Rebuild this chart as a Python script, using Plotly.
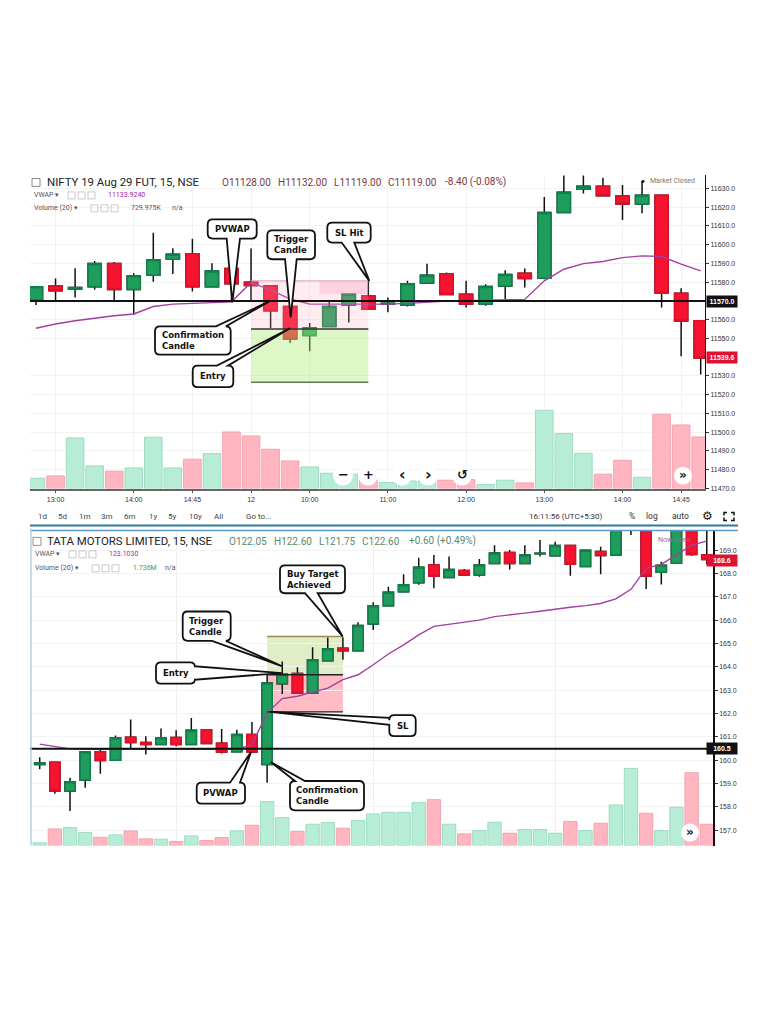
import plotly.graph_objects as go

# ---------- NIFTY 15-minute session ----------
nifty_idx = list(range(35))
nifty_open = [11570.6, 11578.0, 11576.3, 11577.5, 11589.9, 11576.1, 11583.7, 11592.2, 11595.1, 11577.5,
              11587.3, 11580.0, 11578.0, 11567.0, 11551.5, 11556.4, 11567.8, 11572.6, 11568.3, 11567.8,
              11579.5, 11584.4, 11573.6, 11568.3, 11577.9, 11584.8, 11582.1, 11617.1, 11629.5, 11631.1,
              11625.9, 11621.7, 11626.3, 11574.1, 11559.4]
nifty_high = [11577.5, 11582.0, 11587.4, 11591.3, 11590.8, 11584.8, 11606.4, 11598.1, 11603.2, 11590.1,
              11587.3, 11597.9, 11578.0, 11567.0, 11558.2, 11570.1, 11573.6, 11580.7, 11571.8, 11580.7,
              11589.8, 11585.1, 11580.7, 11578.9, 11586.4, 11587.3, 11625.4, 11640.0, 11640.0, 11635.7,
              11631.8, 11633.9, 11626.3, 11576.8, 11559.4]
nifty_low = [11567.8, 11570.1, 11571.8, 11575.9, 11570.4, 11562.6, 11580.2, 11584.3, 11575.0, 11577.5,
             11569.5, 11570.4, 11555.4, 11547.6, 11543.1, 11555.9, 11558.5, 11565.6, 11563.9, 11567.0,
             11579.5, 11573.4, 11566.5, 11567.4, 11571.0, 11577.2, 11581.6, 11617.1, 11627.3, 11626.1,
             11613.2, 11616.7, 11566.5, 11540.5, 11530.7]
nifty_close = [11577.5, 11575.4, 11577.2, 11589.9, 11576.1, 11583.4, 11591.9, 11594.9, 11577.5, 11585.9,
               11579.1, 11578.2, 11564.8, 11549.7, 11555.5, 11567.0, 11573.6, 11565.6, 11568.7, 11579.1,
               11583.7, 11573.4, 11568.3, 11577.7, 11584.1, 11582.0, 11617.1, 11628.0, 11631.2, 11626.1,
               11621.7, 11626.3, 11574.1, 11559.3, 11539.6]
nifty_vwap = [11555.4, 11557.7, 11559.4, 11560.9, 11562.1, 11563.0, 11567.0, 11568.3, 11568.7, 11569.2,
              11569.5, 11579.8, 11575.9, 11571.0, 11568.3, 11568.3, 11568.3, 11568.3, 11568.3, 11568.7,
              11569.5, 11569.9, 11570.1, 11570.4, 11570.6, 11570.8, 11580.7, 11586.9, 11589.9, 11591.0,
              11593.1, 11594.0, 11593.7, 11589.6, 11586.0]
nifty_volume_k = [207, 253, 1013, 453, 347, 413, 1027, 413, 587, 700, 1133, 1053, 787, 553, 433, 307, 287, 187,
                  120, 153, 153, 167, 180, 80, 167, 113, 1567, 1100, 707, 287, 567, 227, 1487, 1273, 1033]
nifty_time_pos = [1, 5, 8, 11, 14, 18, 22, 26, 30, 33]
nifty_time_labels = ["13:00", "14:00", "14:45", "12", "10:00", "11:00", "12:00", "13:00", "14:00", "14:45"]
nifty_price_ticks = [11630, 11620, 11610, 11600, 11590, 11580, 11560, 11550, 11530,
                     11520, 11510, 11500, 11490, 11480, 11470]
nifty_level = 11570.0
nifty_last = 11539.6

# ---------- TATA MOTORS 15-minute session ----------
tata_idx = list(range(45))
tata_open = [159.82, 159.92, 158.68, 159.15, 160.36, 160.00, 160.99, 160.76, 160.67, 160.97, 160.67, 161.31,
             160.73, 160.36, 161.10, 159.82, 163.28, 163.72, 162.88, 164.26, 164.80, 164.69, 165.83, 166.62,
             167.22, 167.60, 168.36, 167.82, 168.12, 167.93, 168.42, 168.90, 168.42, 168.84, 168.76, 169.19,
             168.30, 168.94, 168.79, 170.20, 170.50, 168.05, 168.43, 170.40, 168.79]
tata_high = [160.13, 159.92, 159.25, 160.36, 160.46, 161.06, 161.74, 161.03, 161.36, 161.29, 161.81, 161.31,
             161.34, 161.31, 161.64, 163.69, 164.23, 163.98, 164.84, 165.26, 165.27, 165.91, 166.77, 167.43,
             167.96, 168.67, 168.79, 168.72, 168.19, 168.62, 169.21, 169.00, 169.21, 169.43, 169.36, 169.19,
             168.99, 169.14, 170.90, 170.80, 170.90, 168.50, 170.50, 170.60, 170.40]
tata_low = [159.61, 158.57, 157.83, 158.82, 159.42, 160.00, 160.50, 160.25, 160.67, 160.60, 160.67, 160.72,
            160.29, 160.36, 160.35, 159.04, 162.84, 162.87, 162.85, 164.26, 164.30, 164.69, 165.58, 166.62,
            167.22, 167.51, 167.36, 167.82, 167.93, 167.86, 168.42, 168.17, 168.42, 168.72, 168.76, 167.90,
            168.30, 167.96, 168.79, 169.64, 167.33, 167.53, 168.43, 168.76, 168.39]
tata_close = [159.88, 158.68, 159.08, 160.36, 159.99, 160.96, 160.76, 160.67, 160.96, 160.67, 161.29, 160.72,
              160.35, 161.10, 160.35, 163.31, 163.68, 162.87, 164.30, 164.77, 164.69, 165.77, 166.62, 167.19,
              167.51, 168.26, 167.88, 168.17, 167.93, 168.36, 168.87, 168.42, 168.79, 168.86, 169.19, 168.39,
              168.99, 168.77, 170.60, 170.50, 167.89, 168.35, 170.30, 168.81, 168.60]
tata_vwap = [160.69, 160.60, 160.49, 160.47, 160.47, 160.47, 160.47, 160.47, 160.47, 160.47, 160.47, 160.47,
             160.47, 160.47, 160.67, 162.03, 162.64, 162.74, 162.92, 163.09, 163.45, 163.66, 164.09, 164.55,
             164.94, 165.37, 165.73, 165.83, 165.91, 166.00, 166.15, 166.21, 166.30, 166.38, 166.48, 166.55,
             166.62, 166.71, 166.91, 167.32, 168.22, 168.39, 168.79, 169.21, 169.38]
tata_volume_m = [0.16, 1.00, 1.08, 0.78, 0.50, 0.64, 0.88, 0.40, 0.38, 0.24, 0.58, 0.30, 0.48, 0.88, 1.22, 2.64,
                 1.68, 0.84, 1.28, 1.38, 1.04, 1.50, 1.90, 2.00, 2.00, 2.58, 2.76, 1.28, 0.70, 0.90, 1.40, 0.74,
                 0.96, 0.96, 0.74, 1.44, 0.90, 1.34, 2.44, 4.64, 1.94, 0.90, 2.30, 4.38, 1.28]
tata_grid_pos = [9, 22, 34]
tata_price_ticks = [169, 168, 167, 166, 165, 164, 163, 162, 161, 160, 159, 158, 157]
tata_level = 160.49
tata_last = 168.60

GREEN, GREEN_EDGE = "#1f9d5c", "#10804a"
RED, RED_EDGE = "#f5132f", "#dc1029"
VOL_GREEN, VOL_RED = "#b7ecd6", "#ffb6c1"
VWAP_COLOR = "#a23f9f"
W, H = 768, 1024
TEXT_FONT = "Roboto, Liberation Sans, sans-serif"


def px(x):
    return x / W


def py(y):
    return 1 - y / H


fig = go.Figure()


def add_candles(idx, o, h, l, c, xa, ya):
    # black wicks first, then coloured bodies of the same width on top
    fig.add_trace(go.Candlestick(
        x=idx, open=o, high=h, low=l, close=c, xaxis=xa, yaxis=ya, showlegend=False, hoverinfo="skip",
        whiskerwidth=0,
        increasing=dict(line=dict(color="#111111", width=1.5), fillcolor="#111111"),
        decreasing=dict(line=dict(color="#111111", width=1.5), fillcolor="#111111")))
    fig.add_trace(go.Candlestick(
        x=idx, open=o, close=c,
        high=[max(a, b) for a, b in zip(o, c)], low=[min(a, b) for a, b in zip(o, c)],
        xaxis=xa, yaxis=ya, showlegend=False, whiskerwidth=0,
        increasing=dict(line=dict(color=GREEN_EDGE, width=1.5), fillcolor=GREEN),
        decreasing=dict(line=dict(color=RED_EDGE, width=1.5), fillcolor=RED)))


def add_volume(idx, vol, o, c, xa, ya, width):
    colors = [VOL_GREEN if b >= a else VOL_RED for a, b in zip(o, c)]
    edges = ["#9fdcc3" if b >= a else "#f5a3b0" for a, b in zip(o, c)]
    fig.add_trace(go.Bar(x=idx, y=vol, xaxis=xa, yaxis=ya, width=width, showlegend=False,
                         marker=dict(color=colors, line=dict(color=edges, width=1))))


add_candles(nifty_idx, nifty_open, nifty_high, nifty_low, nifty_close, "x", "y")
fig.add_trace(go.Scatter(x=nifty_idx, y=nifty_vwap, mode="lines", xaxis="x", yaxis="y", showlegend=False,
                         line=dict(color=VWAP_COLOR, width=1.4)))
add_volume(nifty_idx, nifty_volume_k, nifty_open, nifty_close, "x", "y3", 0.9)

add_candles(tata_idx, tata_open, tata_high, tata_low, tata_close, "x2", "y2")
fig.add_trace(go.Scatter(x=tata_idx, y=tata_vwap, mode="lines", xaxis="x2", yaxis="y2", showlegend=False,
                         line=dict(color=VWAP_COLOR, width=1.4)))
add_volume(tata_idx, tata_volume_m, tata_open, tata_close, "x2", "y4", 0.88)

shapes = []
annotations = []


def label(x, y, text, size=7, color="#333333", anchor="left", family=TEXT_FONT):
    annotations.append(dict(x=px(x), y=py(y), xref="paper", yref="paper", text=text, showarrow=False,
                            xanchor=anchor, yanchor="middle", align="left",
                            font=dict(size=size, color=color, family=family)))


def region(x0, x1, y0, y1, fill, xref, yref, layer="above"):
    shapes.append(dict(type="rect", xref=xref, yref=yref, x0=x0, x1=x1, y0=y0, y1=y1,
                       fillcolor=fill, line=dict(width=0), layer=layer))


def hline(x0, x1, y, color, width, xref, yref):
    shapes.append(dict(type="line", xref=xref, yref=yref, x0=x0, x1=x1, y0=y, y1=y,
                       line=dict(color=color, width=width), layer="above"))


def page_line(x0, y0, x1, y1, color, width):
    shapes.append(dict(type="line", xref="paper", yref="paper", x0=px(x0), x1=px(x1), y0=py(y0), y1=py(y1),
                       line=dict(color=color, width=width), layer="above"))


def disc(x, y, r):
    shapes.append(dict(type="circle", xref="paper", yref="paper", x0=px(x - r), x1=px(x + r),
                       y0=py(y - r), y1=py(y + r), fillcolor="white", line=dict(width=0), layer="above"))


def callout(x0, y0, x1, y1, edge, base1, tip, base2, lines, size=8.5):
    # rounded box with a wedge tail; the bases are listed clockwise along the chosen edge
    r = 5
    def pt(x, y):
        return f"{px(x):.5f},{py(y):.5f}"
    tail = " ".join(f"L{pt(*p)}" for p in (base1, tip, base2))
    path = f"M{pt(x0 + r, y0)} "
    if edge == "top":
        path += tail + " "
    path += f"L{pt(x1 - r, y0)} Q{pt(x1, y0)} {pt(x1, y0 + r)} "
    if edge == "right":
        path += tail + " "
    path += f"L{pt(x1, y1 - r)} Q{pt(x1, y1)} {pt(x1 - r, y1)} "
    if edge == "bottom":
        path += tail + " "
    path += f"L{pt(x0 + r, y1)} Q{pt(x0, y1)} {pt(x0, y1 - r)} "
    if edge == "left":
        path += tail + " "
    path += f"L{pt(x0, y0 + r)} Q{pt(x0, y0)} {pt(x0 + r, y0)} Z"
    shapes.append(dict(type="path", xref="paper", yref="paper", path=path, fillcolor="white",
                       line=dict(color="#111111", width=1.8), layer="above"))
    annotations.append(dict(x=px((x0 + x1) / 2), y=py((y0 + y1) / 2), xref="paper", yref="paper",
                            xanchor="center", yanchor="middle",
                            text="<br>".join(f"<b>{t}</b>" for t in lines), showarrow=False, align="left",
                            font=dict(size=size, color="#111111", family="DejaVu Sans")))


def toggles(x, y):
    for k in range(3):
        shapes.append(dict(type="rect", xref="paper", yref="paper", x0=px(x + k * 10), x1=px(x + k * 10 + 7),
                           y0=py(y + 3.5), y1=py(y - 3.5), line=dict(color="#c9c9c9", width=1), layer="above"))


# trade zones on the NIFTY pane
region(11, 17, 11555, 11580.7, "rgba(255,170,190,0.22)", "x", "y")
region(14.5, 17, 11573.5, 11580.7, "rgba(255,150,190,0.3)", "x", "y")
region(11, 17, 11526.6, 11555, "rgba(175,235,120,0.42)", "x", "y")
hline(11, 17, 11555, "#333333", 1.5, "x", "y")
hline(11, 17, 11526.6, "#667755", 1.5, "x", "y")
hline(11, 17, 11580.7, "#d8a0b8", 1, "x", "y")
hline(-0.307, 34.22, nifty_level, "#111111", 2, "x", "y")

# trade zones on the TATA pane
region(15, 20, 163.66, 165.3, "rgba(205,225,160,0.6)", "x2", "y2", "below")
region(15, 20, 162.07, 163.66, "rgba(255,165,178,0.75)", "x2", "y2", "below")
hline(15, 20, 165.3, "#9a8a5a", 1.5, "x2", "y2")
hline(15, 20, 163.66, "#222222", 1.5, "x2", "y2")
hline(15, 20, 162.07, "#222222", 1.2, "x2", "y2")
hline(-0.64, 44.41, tata_level, "#111111", 2, "x2", "y2")

# panel rules between and beside the charts
page_line(30, 527, 738, 527, "#2e7a9e", 2)
page_line(30, 532, 738, 532, "#5a9ac8", 1.5)
page_line(31, 530, 31, 848, "#b5cfe8", 1.5)

# callouts on the NIFTY pane
callout(207.7, 220, 256.7, 239.3, "bottom", (240, 239.3), (232.3, 303.3), (226.7, 239.3), ["PVWAP"])
callout(267.3, 231, 315, 260, "bottom", (296.7, 260), (290.7, 318.3), (285, 260), ["Trigger", "Candle"])
callout(327.3, 223.3, 370.7, 243.3, "bottom", (354.3, 243.3), (369.3, 281.7), (341.7, 243.3), ["SL Hit"])
callout(155, 327.3, 230.7, 355.7, "top", (216, 327.3), (269.3, 302.3), (226, 327.3), ["Confirmation", "Candle"])
callout(192.7, 366.7, 233.3, 388.3, "top", (217, 366.7), (290, 329.3), (228, 366.7), ["Entry"])

# callouts on the TATA pane
callout(280, 567, 345, 595, "bottom", (317.7, 595), (342.7, 638.3), (305, 595), ["Buy Target", "Achieved"])
callout(182.7, 613.3, 230.7, 642.7, "bottom", (226, 642.7), (281.7, 668), (212, 642.7), ["Trigger", "Candle"])
callout(156, 664.3, 195, 685.7, "right", (195, 668.3), (281.7, 675), (195, 681.7), ["Entry"])
callout(196.7, 785, 245, 806, "top", (230, 785), (251, 754.3), (240, 785), ["PVWAP"])
callout(290, 783.3, 364, 812.7, "top", (295, 783.3), (270.7, 764.3), (305, 783.3), ["Confirmation", "Candle"])
callout(389.3, 717.3, 415.7, 738.3, "left", (389.3, 727), (270, 714), (389.3, 720), ["SL"])

# NIFTY header
label(45, 183, "NIFTY 19 Aug 29 FUT, 15, NSE", 11.4, "#222222")
shapes.append(dict(type="rect", xref="paper", yref="paper", x0=px(32), x1=px(40), y0=py(187), y1=py(179),
                   line=dict(color="#888888", width=1), layer="above"))
for x, t in [(220, "O11128.00"), (276, "H11132.00"), (332, "L11119.00"), (386, "C11119.00"),
             (443, "-8.40 (-0.08%)")]:
    label(x, 183, t, 10, "#7a3a3a")
label(32, 196, "VWAP ▾", 7, "#555555")
toggles(68, 196)
label(106, 196, "11133.9240", 7, "#a0209a")
label(32, 209, "Volume (20) ▾", 7, "#555555")
toggles(91, 209)
label(129, 209, "729.975K", 7, "#8a4040")
label(170, 209, "n/a", 7, "#555555")
label(648, 182, "Market Closed", 7, "#777777")
disc(643, 182, 1.5)
shapes[-1]["fillcolor"] = "#111111"

# TATA header
label(45, 543, "TATA MOTORS LIMITED, 15, NSE", 11.4, "#222222")
shapes.append(dict(type="rect", xref="paper", yref="paper", x0=px(33), x1=px(41), y0=py(547), y1=py(539),
                   line=dict(color="#aa8888", width=1), layer="above"))
for x, t in [(227, "O122.05"), (272, "H122.60"), (317, "L121.75"), (360, "C122.60"), (407, "+0.60 (+0.49%)")]:
    label(x, 543, t, 10, "#5c8a6e")
label(33, 556, "VWAP ▾", 7, "#555555")
toggles(69, 556)
label(107, 556, "123.1030", 7, "#c0209a")
label(33, 570, "Volume (20) ▾", 7, "#555555")
toggles(92, 570)
label(131, 570, "1.736M", 7, "#5c8a6e")
label(163, 570, "n/a", 7, "#555555")
label(656, 542, "Now Open", 7, "#a06aa0")

# toolbar between the panes
for x, t in [(42, "1d"), (62, "5d"), (85, "1m"), (107, "3m"), (130, "6m"), (153, "1y"), (172, "5y"),
             (195, "10y"), (218, "All"), (258, "Go to...")]:
    label(x, 518, t, 8, "#444444", "center")
label(527, 518, "16:11:56 (UTC+5:30)", 8, "#333333")
label(632, 518, "%", 8.5, "#333333", "center")
label(652, 518, "log", 8.5, "#333333", "center")
label(680, 518, "auto", 8.5, "#333333", "center")
label(707, 518, "⚙", 12, "#111111", "center", "DejaVu Sans")
for sx, sy in [(-1, -1), (1, -1), (-1, 1), (1, 1)]:
    cx, cy = 729 + sx * 5, 518 + sy * 4
    path = (f"M{px(cx - sx * 3):.5f},{py(cy):.5f} L{px(cx):.5f},{py(cy):.5f} "
            f"L{px(cx):.5f},{py(cy - sy * 3):.5f}")
    shapes.append(dict(type="path", xref="paper", yref="paper", path=path,
                       line=dict(color="#111111", width=1.5), layer="above"))

# chart navigation buttons
for x, glyph, size in [(343, "−", 13), (368, "+", 13), (402, "‹", 16), (428, "›", 16), (462, "↺", 13)]:
    disc(x, 477, 10)
    label(x, 476, f"<b>{glyph}</b>", size, "#111111", "center", "DejaVu Sans")
for x, y in [(683, 477), (690, 835)]:
    disc(x, y, 9)
    label(x, y - 1, "<b>»</b>", 12, "#222222", "center", "DejaVu Sans")


def price_flag(y, text, bg):
    annotations.append(dict(x=px(722), y=py(y), xref="paper", yref="paper", text=f"<b>{text}</b>",
                            xanchor="center", yanchor="middle",
                            showarrow=False, bgcolor=bg, width=30, height=11, borderpad=0, align="center",
                            font=dict(size=7, color="white", family="Liberation Sans")))


price_flag(302, f"{nifty_level:.1f}", "#111111")
price_flag(358.5, f"{nifty_last:.1f}", "#e01030")
price_flag(751, f"{tata_level:.1f}", "#111111")
price_flag(562, f"{tata_last:.1f}", "#e01030")

tick_font = dict(size=7, color="#333333", family="Liberation Sans")
grid = "#f2f2f2"
dom_top = [1 - 490 / H, 1 - 176 / H]
dom_bot = [1 - 848 / H, 1 - 532 / H]

fig.update_layout(
    width=W, height=H, autosize=False, margin=dict(l=0, r=0, t=0, b=0),
    paper_bgcolor="white", plot_bgcolor="white", showlegend=False, barmode="overlay", bargap=0.1,
    boxgap=0.18, boxgroupgap=0.18,
    shapes=shapes, annotations=annotations,
    xaxis=dict(domain=[30 / W, 705 / W], range=[-0.307, 34.22], anchor="y", rangeslider=dict(visible=False),
               tickmode="array", tickvals=nifty_time_pos, ticktext=nifty_time_labels, tickfont=tick_font,
               ticks="outside", ticklen=3, tickcolor="#555555", showline=True, linecolor="#666666", linewidth=1.5,
               showgrid=True, gridcolor=grid, zeroline=False),
    yaxis=dict(domain=dom_top, range=[11469.9, 11636.9], anchor="x", side="right",
               tickmode="array", tickvals=nifty_price_ticks, ticktext=[f"{v:.1f}" for v in nifty_price_ticks],
               tickfont=tick_font, ticks="outside", ticklen=3, tickcolor="#333333",
               showline=True, linecolor="#111111", linewidth=1, showgrid=True, gridcolor=grid, zeroline=False),
    yaxis3=dict(domain=dom_top, range=[0, 6266], overlaying="y", anchor="x", visible=False),
    xaxis2=dict(domain=[30 / W, 713 / W], range=[-0.64, 44.41], anchor="y2", rangeslider=dict(visible=False),
                tickmode="array", tickvals=tata_grid_pos, showticklabels=False, ticks="",
                showgrid=True, gridcolor="#eeeeee", zeroline=False),
    yaxis2=dict(domain=dom_bot, range=[156.35, 169.84], anchor="x2", side="right",
                tickmode="array", tickvals=tata_price_ticks, ticktext=[f"{v:.1f}" for v in tata_price_ticks],
                tickfont=tick_font, ticks="outside", ticklen=3, tickcolor="#333333",
                showline=True, linecolor="#111111", linewidth=1.5, showgrid=True, gridcolor=grid, zeroline=False),
    yaxis4=dict(domain=dom_bot, range=[0, 18.96], overlaying="y2", anchor="x2", visible=False),
)

fig.write_html("out.html", config=dict(displayModeBar=False))
